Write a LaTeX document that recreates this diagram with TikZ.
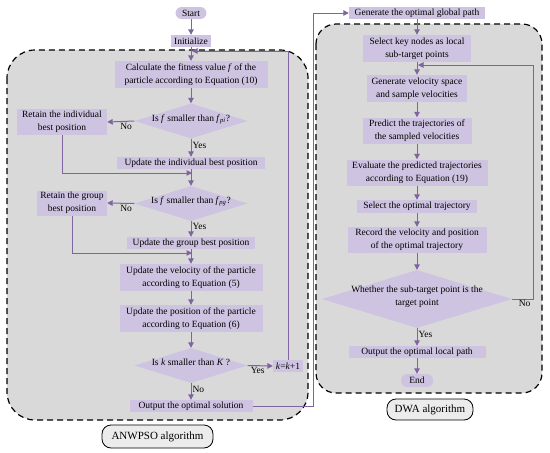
\documentclass[tikz,border=0pt]{standalone}
\usepackage{fontspec}
\setmainfont{Liberation Serif}
\usetikzlibrary{arrows.meta,shapes.geometric}
\definecolor{boxfill}{RGB}{206,196,226}
\definecolor{arrcol}{RGB}{128,100,162}
\definecolor{bggrey}{RGB}{217,217,217}
\definecolor{labgrey}{RGB}{236,236,236}
\newcommand\dtext[1]{\smash{\makebox[0pt]{\begin{tabular}{@{}c@{}}#1\end{tabular}}}}
\newcommand\fsub[1]{\textit{f}\textsubscript{\itshape #1}}
\begin{document}
\begin{tikzpicture}[x=1pt,y=-1pt,
  every node/.style={font=\fontsize{9.5}{12.8}\selectfont},
  pbox/.style={fill=boxfill,inner sep=0pt,align=center},
  oval/.style={fill=boxfill,rounded corners=6pt,inner sep=0pt},
  dia/.style={diamond,fill=boxfill,inner sep=0pt},
  arr/.style={draw=arrcol,line width=1pt,-{Triangle[length=5.5pt,width=5.5pt]}},
  region/.style={draw=black,fill=bggrey,line width=1.2pt,dash pattern=on 6pt off 4pt},
  lab/.style={draw=black,fill=labgrey,line width=0.8pt,rounded corners=9pt,inner sep=0pt,font=\fontsize{11}{13}\selectfont},
  note/.style={inner sep=1pt}]
\useasboundingbox (0,0) rectangle (550,453);
% regions
\draw[region,rounded corners=28pt] (7,50) rectangle (308,420);
\draw[region,rounded corners=20pt] (316,24) rectangle (542,393);
% left flow
\node[oval,minimum width=31pt,minimum height=12pt] (start) at (191,13) {Start};
\node[pbox,minimum width=40pt,minimum height=12pt] (init) at (191,41) {Initialize};
\node[pbox,minimum width=153pt,minimum height=27pt] (calc) at (191,74.5) {Calculate the fitness value \textit{f} of the\\particle according to Equation (10)};
\node[dia,minimum width=113pt,minimum height=35pt] (d1) at (191,121) {\dtext{Is \textit{f} smaller than \fsub{pi}?}};
\node[pbox,minimum width=90pt,minimum height=26pt] (ret1) at (62,122) {Retain the individual\\best position};
\node[pbox,minimum width=148pt,minimum height=12pt] (upd1) at (191,163) {Update the individual best position};
\node[dia,minimum width=113pt,minimum height=35pt] (d2) at (191,203.5) {\dtext{Is \textit{f} smaller than \fsub{pg}?}};
\node[pbox,minimum width=70pt,minimum height=25pt] (ret2) at (72,203) {Retain the group\\best position};
\node[pbox,minimum width=128pt,minimum height=12pt] (upd2) at (191,243) {Update the group best position};
\node[pbox,minimum width=143pt,minimum height=27pt] (vel) at (191,277.5) {Update the velocity of the particle\\according to Equation (5)};
\node[pbox,minimum width=143pt,minimum height=27pt] (pos) at (191,318.5) {Update the position of the particle\\according to Equation (6)};
\node[dia,minimum width=113pt,minimum height=35pt] (d3) at (191,365.5) {\dtext{Is \textit{k} smaller than \textit{K} ?}};
\node[pbox,minimum width=30pt,minimum height=12pt] (kk) at (288,366) {\textit{k}=\textit{k}+1};
\node[pbox,minimum width=123pt,minimum height=12pt] (out1) at (191,406) {Output the optimal solution};
\node[lab,minimum width=111pt,minimum height=23pt] (labA) at (157.5,436.5) {ANWPSO algorithm};
% right flow
\node[pbox,minimum width=136pt,minimum height=12pt] (gp) at (417,13) {Generate the optimal global path};
\node[pbox,minimum width=108pt,minimum height=27pt] (key) at (417,48.5) {Select key nodes as local\\sub-target points};
\node[pbox,minimum width=100pt,minimum height=27pt] (genv) at (417,88.5) {Generate velocity space\\and sample velocities};
\node[pbox,minimum width=109pt,minimum height=26pt] (pred) at (417,130.5) {Predict the trajectories of\\the sampled velocities};
\node[pbox,minimum width=141pt,minimum height=26pt] (eval) at (417,172.5) {Evaluate the predicted trajectories\\according to Equation (19)};
\node[pbox,minimum width=120pt,minimum height=13pt] (selo) at (417,206.5) {Select the optimal trajectory};
\node[pbox,minimum width=139pt,minimum height=26pt] (rec) at (417,240) {Record the velocity and position\\of the optimal trajectory};
\node[dia,minimum width=190pt,minimum height=58pt] (d4) at (417,299) {\dtext{Whether the sub-target point is the\\target point}};
\node[pbox,minimum width=137pt,minimum height=12pt] (outl) at (417,352) {Output the optimal local path};
\node[oval,minimum width=32pt,minimum height=13pt] (fin) at (417,380.5) {End};
\node[lab,minimum width=86pt,minimum height=21pt] (labB) at (430,409.5) {DWA algorithm};
% helper coordinates
\coordinate (loopA) at (192,51);
\coordinate (j1) at (192,173);
\coordinate (j2) at (192,253);
\coordinate (c1) at (313,13);
\coordinate (loopB) at (418,65);
\coordinate (c2) at (533,65);
% left connectors
\draw[arr] (start) -- (init);
\draw[arr] (init) -- (calc);
\draw[arr] (kk.north) |- (loopA);
\draw[arr] (calc) -- (d1);
\draw[arr] (d1.west) -- node[note,below,pos=0.3] {No} (ret1.east);
\draw[arr] (d1.south) -- node[note,right,pos=0.35] {Yes} (upd1.north);
\draw[arr] (upd1) -- (d2);
\draw[arr] (ret1.south) |- (j1);
\draw[arr] (d2.west) -- node[note,below,pos=0.3] {No} (ret2.east);
\draw[arr] (d2.south) -- node[note,right,pos=0.35] {Yes} (upd2.north);
\draw[arr] (upd2) -- (vel);
\draw[arr] (ret2.south) |- (j2);
\draw[arr] (vel) -- (pos);
\draw[arr] (pos) -- (d3);
\draw[arr] (d3.east) -- node[note,below,pos=0.4] {Yes} (kk.west);
\draw[arr] (d3.south) -- node[note,right,pos=0.35] {No} (out1.north);
\draw[arr] (out1.east) -| (c1) -- (gp.west);
% right connectors
\draw[arr] (gp) -- (key);
\draw[arr] (key) -- (genv);
\draw[arr] (genv) -- (pred);
\draw[arr] (pred) -- (eval);
\draw[arr] (eval) -- (selo);
\draw[arr] (selo) -- (rec);
\draw[arr] (rec) -- (d4);
\draw[arr] (d4.east) -| node[note,below,pos=0.3] {No} (c2) -- (loopB);
\draw[arr] (d4.south) -- node[note,right,pos=0.35] {Yes} (outl.north);
\draw[arr] (outl) -- (fin);
\end{tikzpicture}
\end{document}
